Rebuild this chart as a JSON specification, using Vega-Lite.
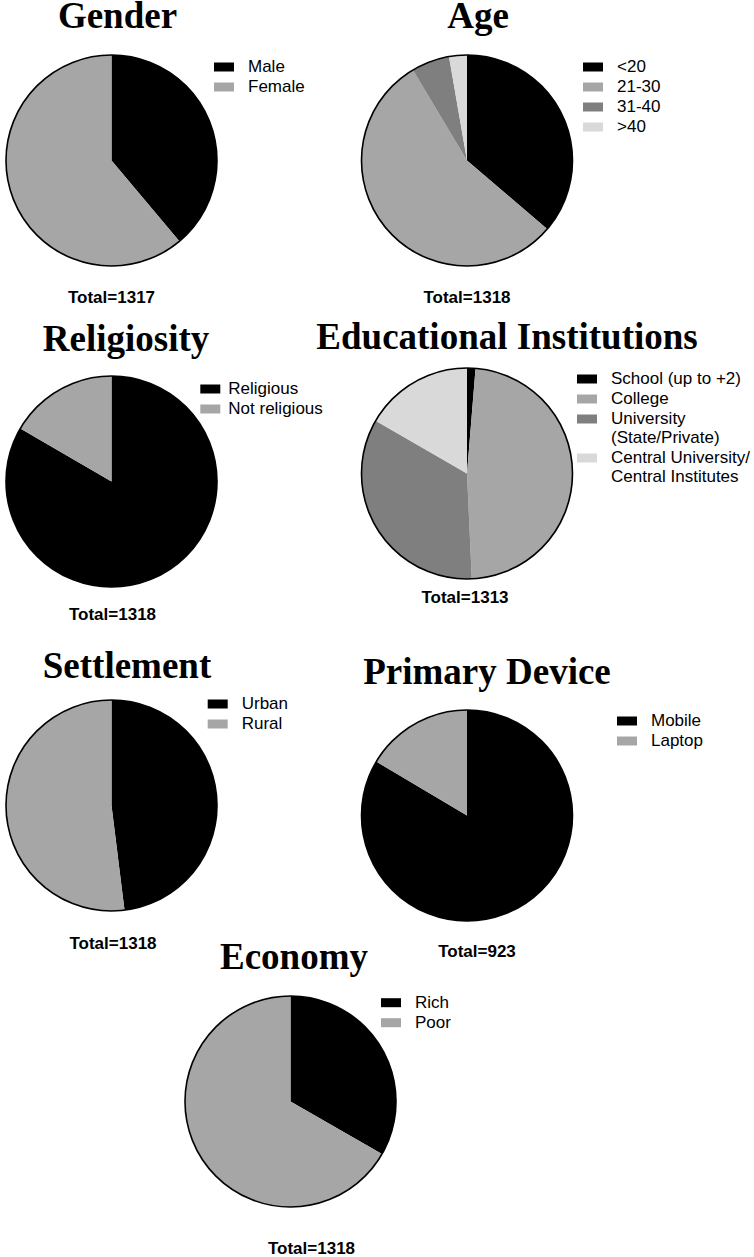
{
  "$schema": "https://vega.github.io/schema/vega-lite/v6.json",
  "background": "white",
  "padding": {"left": 2, "top": -2, "right": 0, "bottom": 0},
  "datasets": {
    "gender": [{"cat": "Male", "value": 512, "i": 1}, {"cat": "Female", "value": 805, "i": 2}],
    "age": [{"cat": "<20", "value": 478, "i": 1}, {"cat": "21-30", "value": 727, "i": 2}, {"cat": "31-40", "value": 77, "i": 3}, {"cat": ">40", "value": 36, "i": 4}],
    "relig": [{"cat": "Religious", "value": 1099, "i": 1}, {"cat": "Not religious", "value": 219, "i": 2}],
    "edu": [{"cat": "School (up to +2)", "value": 17, "i": 1}, {"cat": "College", "value": 630, "i": 2}, {"cat": "University (State/Private)", "value": 447, "i": 3}, {"cat": "Central University/ Central Institutes", "value": 219, "i": 4}],
    "settle": [{"cat": "Urban", "value": 633, "i": 1}, {"cat": "Rural", "value": 685, "i": 2}],
    "device": [{"cat": "Mobile", "value": 771, "i": 1}, {"cat": "Laptop", "value": 152, "i": 2}],
    "econ": [{"cat": "Rich", "value": 439, "i": 1}, {"cat": "Poor", "value": 879, "i": 2}]
  },
  "vconcat": [
    {
      "concat": [
        {"width": 211, "height": 54, "data": {"values": [{"t": "Gender"}]}, "mark": {"type": "text", "font": "Liberation Serif", "fontSize": 37, "fontWeight": "bold", "baseline": "alphabetic", "dx": 6}, "encoding": {"text": {"field": "t", "type": "nominal"}}},
        {"width": 211, "height": 54, "data": {"values": [{"t": "Age"}]}, "mark": {"type": "text", "font": "Liberation Serif", "fontSize": 37, "fontWeight": "bold", "baseline": "alphabetic", "dx": 11}, "encoding": {"text": {"field": "t", "type": "nominal"}}},

        {
          "width": 211, "height": 211, "data": {"name": "gender"},
          "layer": [
            {"mark": {"type": "arc"}, "encoding": {"theta": {"field": "value", "type": "quantitative"}, "order": {"field": "i", "type": "quantitative"}, "color": {"field": "cat", "type": "nominal", "sort": null, "scale": {"domain": ["Male", "Female"], "range": ["#000000", "#a6a6a6"]}, "legend": {"title": null, "legendX": 208, "legendY": 2}}}},
            {"mark": {"type": "arc", "filled": false, "stroke": "#000000", "strokeWidth": 1.6}, "encoding": {"theta": {"aggregate": "sum", "field": "value", "type": "quantitative"}}}
          ]
        },
        {
          "width": 211, "height": 211, "data": {"name": "age"},
          "layer": [
            {"mark": {"type": "arc"}, "encoding": {"theta": {"field": "value", "type": "quantitative"}, "order": {"field": "i", "type": "quantitative"}, "color": {"field": "cat", "type": "nominal", "sort": null, "scale": {"domain": ["<20", "21-30", "31-40", ">40"], "range": ["#000000", "#a6a6a6", "#7f7f7f", "#d9d9d9"]}, "legend": {"title": null, "legendX": 221.5, "legendY": 2}}}},
            {"mark": {"type": "arc", "filled": false, "stroke": "#000000", "strokeWidth": 1.6}, "encoding": {"theta": {"aggregate": "sum", "field": "value", "type": "quantitative"}}}
          ]
        },

        {"width": 211, "height": 64, "data": {"values": [{"label": "Total=1317"}]}, "mark": {"type": "text", "baseline": "middle"}, "encoding": {"text": {"field": "label", "type": "nominal"}}},
        {"width": 211, "height": 64, "data": {"values": [{"label": "Total=1318"}]}, "mark": {"type": "text", "baseline": "middle"}, "encoding": {"text": {"field": "label", "type": "nominal"}}},

        {"width": 211, "height": 20, "data": {"values": [{"t": "Religiosity"}]}, "mark": {"type": "text", "font": "Liberation Serif", "fontSize": 37, "fontWeight": "bold", "baseline": "middle", "dx": 14.5}, "encoding": {"text": {"field": "t", "type": "nominal"}}},
        {"width": 211, "height": 38, "data": {"values": [{"t": "Educational Institutions"}]}, "mark": {"type": "text", "font": "Liberation Serif", "fontSize": 37, "fontWeight": "bold", "baseline": "alphabetic", "dx": 40}, "encoding": {"text": {"field": "t", "type": "nominal"}}},

        {
          "width": 211, "height": 227, "data": {"name": "relig"},
          "layer": [
            {"mark": {"type": "arc"}, "encoding": {"theta": {"field": "value", "type": "quantitative"}, "order": {"field": "i", "type": "quantitative"}, "color": {"field": "cat", "type": "nominal", "sort": null, "scale": {"domain": ["Religious", "Not religious"], "range": ["#000000", "#a6a6a6"]}, "legend": {"title": null, "legendX": 194.3, "legendY": 11, "labelOffset": 8}}}},
            {"mark": {"type": "arc", "filled": false, "stroke": "#000000", "strokeWidth": 1.6}, "encoding": {"theta": {"aggregate": "sum", "field": "value", "type": "quantitative"}}}
          ]
        },
        {
          "width": 211, "height": 211, "data": {"name": "edu"},
          "layer": [
            {"mark": {"type": "arc"}, "encoding": {"theta": {"field": "value", "type": "quantitative"}, "order": {"field": "i", "type": "quantitative"}, "color": {"field": "cat", "type": "nominal", "sort": null, "scale": {"domain": ["School (up to +2)", "College", "University (State/Private)", "Central University/ Central Institutes"], "range": ["#000000", "#a6a6a6", "#7f7f7f", "#d9d9d9"]}, "legend": {"title": null, "legendX": 215.5, "legendY": 1, "labelExpr": "datum.label == 'University (State/Private)' ? ['University', '(State/Private)'] : datum.label == 'Central University/ Central Institutes' ? ['Central University/', 'Central Institutes'] : datum.label"}}}},
            {"mark": {"type": "arc", "filled": false, "stroke": "#000000", "strokeWidth": 1.6}, "encoding": {"theta": {"aggregate": "sum", "field": "value", "type": "quantitative"}}}
          ]
        },

        {"width": 211, "height": 50, "data": {"values": [{"label": "Total=1318"}]}, "mark": {"type": "text", "baseline": "alphabetic", "dx": 1}, "encoding": {"text": {"field": "label", "type": "nominal"}}},
        {"width": 211, "height": 15, "data": {"values": [{"label": "Total=1313"}]}, "mark": {"type": "text", "baseline": "alphabetic", "dx": -2}, "encoding": {"text": {"field": "label", "type": "nominal"}}},

        {"width": 211, "height": 43, "data": {"values": [{"t": "Settlement"}]}, "mark": {"type": "text", "font": "Liberation Serif", "fontSize": 37, "fontWeight": "bold", "baseline": "middle", "dx": 15.5}, "encoding": {"text": {"field": "t", "type": "nominal"}}},
        {"width": 211, "height": 55, "data": {"values": [{"t": "Primary Device"}]}, "mark": {"type": "text", "font": "Liberation Serif", "fontSize": 37, "fontWeight": "bold", "baseline": "middle", "dx": 20}, "encoding": {"text": {"field": "t", "type": "nominal"}}},

        {
          "width": 211, "height": 211, "data": {"name": "settle"},
          "layer": [
            {"mark": {"type": "arc"}, "encoding": {"theta": {"field": "value", "type": "quantitative"}, "order": {"field": "i", "type": "quantitative"}, "color": {"field": "cat", "type": "nominal", "sort": null, "scale": {"domain": ["Urban", "Rural"], "range": ["#000000", "#a6a6a6"]}, "legend": {"title": null, "legendX": 201.7, "legendY": -6}}}},
            {"mark": {"type": "arc", "filled": false, "stroke": "#000000", "strokeWidth": 1.6}, "encoding": {"theta": {"aggregate": "sum", "field": "value", "type": "quantitative"}}}
          ]
        },
        {
          "width": 211, "height": 231, "data": {"name": "device"},
          "layer": [
            {"mark": {"type": "arc"}, "encoding": {"theta": {"field": "value", "type": "quantitative"}, "order": {"field": "i", "type": "quantitative"}, "color": {"field": "cat", "type": "nominal", "sort": null, "scale": {"domain": ["Mobile", "Laptop"], "range": ["#000000", "#a6a6a6"]}, "legend": {"title": null, "legendX": 255.5, "legendY": 11}}}},
            {"mark": {"type": "arc", "filled": false, "stroke": "#000000", "strokeWidth": 1.6}, "encoding": {"theta": {"aggregate": "sum", "field": "value", "type": "quantitative"}}}
          ]
        }
      ],
      "columns": 2,
      "align": "each",
      "bounds": "flush",
      "spacing": {"row": 0, "column": 144.5},
      "resolve": {"scale": {"color": "independent", "theta": "independent"}, "legend": {"color": "independent"}}
    },
    {
      "concat": [
        {"width": 211, "height": 26, "data": {"values": [{"label": "Total=1318"}]}, "mark": {"type": "text", "baseline": "middle", "dx": 1.5}, "encoding": {"text": {"field": "label", "type": "nominal"}}},
        {"width": 147, "height": 17.4, "data": {"values": [{"t": "Economy"}]}, "mark": {"type": "text", "font": "Liberation Serif", "fontSize": 37, "fontWeight": "bold", "baseline": "top", "dx": 3.5}, "encoding": {"text": {"field": "t", "type": "nominal"}}},
        {"width": 211, "height": 26, "data": {"values": [{"label": "Total=923"}]}, "mark": {"type": "text", "baseline": "top", "dx": 7.5}, "encoding": {"text": {"field": "label", "type": "nominal"}}},
        {"width": 1, "height": 1, "data": {"values": []}, "mark": {"type": "text"}, "encoding": {}},
        {
          "width": 147, "height": 289, "data": {"name": "econ"},
          "title": {"text": "Total=1318", "orient": "bottom", "font": "Liberation Sans", "fontSize": 17, "fontWeight": "bold", "baseline": "alphabetic", "offset": 8, "dx": 21, "anchor": "middle", "frame": "group", "color": "#000000"},
          "layer": [
            {"mark": {"type": "arc", "radius": 105.5}, "encoding": {"theta": {"field": "value", "type": "quantitative"}, "order": {"field": "i", "type": "quantitative"}, "color": {"field": "cat", "type": "nominal", "sort": null, "scale": {"domain": ["Rich", "Poor"], "range": ["#000000", "#a6a6a6"]}, "legend": {"title": null, "legendX": 164, "legendY": 35.7}}}},
            {"mark": {"type": "arc", "radius": 105.5, "filled": false, "stroke": "#000000", "strokeWidth": 1.6}, "encoding": {"theta": {"aggregate": "sum", "field": "value", "type": "quantitative"}}}
          ]
        }
      ],
      "columns": 3,
      "align": "each",
      "bounds": "flush",
      "spacing": {"row": 0, "column": 0},
      "resolve": {"scale": {"color": "independent", "theta": "independent"}, "legend": {"color": "independent"}}
    }
  ],
  "spacing": 0,
  "bounds": "full",
  "resolve": {"scale": {"color": "independent", "theta": "independent"}, "legend": {"color": "independent"}},
  "config": {
    "view": {"stroke": null},
    "legend": {"orient": "none", "labelFont": "Liberation Sans", "labelFontSize": 17, "labelColor": "#000000", "symbolType": "M-1,-0.45H1V0.45H-1Z", "symbolSize": 400, "symbolStrokeWidth": 0, "symbolOpacity": 1, "labelOffset": 14, "rowPadding": 2, "padding": 0, "labelLimit": 300},
    "text": {"font": "Liberation Sans", "fontWeight": "bold", "fontSize": 17, "color": "#000000"}
  }
}
